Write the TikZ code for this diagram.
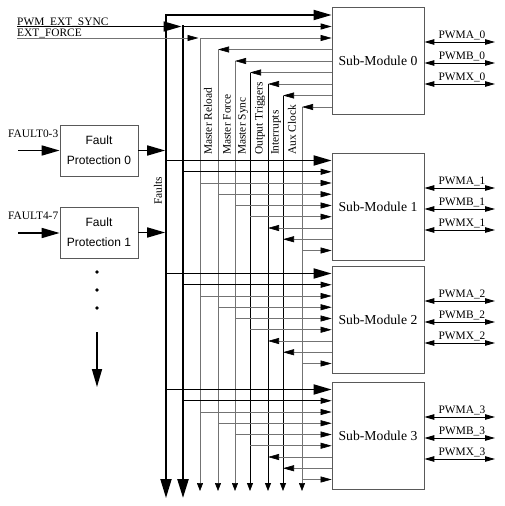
\documentclass[tikz,border=0pt]{standalone}
\usepackage{fontspec}
\setmainfont{Liberation Serif}
\newfontfamily\fpsans{Liberation Sans}
\usetikzlibrary{arrows.meta, positioning, calc}

\tikzset{
  smbox/.style={draw=black!65, line width=0.7pt, minimum width=92pt,
    minimum height=107pt, inner sep=0pt, font=\fontsize{13.7}{16}\selectfont},
  fpbox/.style={draw=black!65, line width=0.7pt, minimum width=78pt,
    minimum height=51pt, align=center, inner sep=0pt,
    font=\fpsans\fontsize{12}{20}\selectfont},
  lbl/.style={inner sep=0pt, font=\fontsize{11.4}{13}\selectfont},
  vlbl/.style={lbl, rotate=90},
  sig/.style={draw=black!55, line width=0.6pt},
  sigdark/.style={draw=black, line width=0.75pt},
  busA/.style={line width=1.8pt, line cap=rect},
  busB/.style={line width=2.4pt, line cap=rect},
  bigtip/.style={-{Triangle[length=18pt,width=10pt]}},
  sigtip/.style={-{Triangle[length=11pt,width=6pt,color=black]}},
  downtip/.style={-{Triangle[length=8pt,width=6pt,color=black]}},
  bustip/.style={-{Triangle[length=19pt,width=11pt]}},
  pwmarr/.style={line width=0.9pt,
    {Triangle[length=10pt,width=5.5pt]}-{Triangle[length=10pt,width=5.5pt]}},
}

\begin{document}
\begin{tikzpicture}[x=1pt, y=-1pt]
\useasboundingbox (0,0) rectangle (504,506);

% sub-modules and fault blocks
\foreach \k/\cy in {0/60.5, 1/206.5, 2/319.5, 3/435.5}
  \node[smbox] (sm\k) at (378,\cy) {Sub-Module \k};
\node[fpbox] (fp0) at (99,150.5) {Fault\\Protection 0};
\node[fpbox] (fp1) at (99,232.5) {Fault\\Protection 1};

% bus columns, each starting at its row of sub-module 0
\foreach \i/\x in {0/166,1/183,2/200,3/218,4/235,5/250,6/268,7/283,8/302}{
  \coordinate (c\i) at (\x,15+11.5*\i);
  \coordinate (e\i) at (\x,491);
}
\coordinate (e0) at (166,498);
\coordinate (e1) at (183,498);
\draw[busA, bustip] (c0) -- (e0);
\draw[busB, bustip] (c1) -- (e1);
\foreach \i in {2,3,4,8} \draw[sig, downtip] (c\i) -- (e\i);
\foreach \i in {5,6,7} \draw[sigdark, downtip] (c\i) -- (e\i);

% rows of sub-module 0
\draw[busA, bigtip] (c0) -- (c0 -| sm0.west);
\draw[line width=1pt, sigtip] (c1) -- (c1 -| sm0.west);
\draw[sig, sigtip] (c2) -- (c2 -| sm0.west);
\foreach \i in {3,...,8} \draw[sig, sigtip] (c\i -| sm0.west) -- (c\i);

% rows of the other sub-modules
\foreach \k/\top in {1/153,2/266,3/382}{
  \foreach \i in {0,...,8}
    \coordinate (r\k\i) at (0,\top+7.5+11.25*\i);
  \draw[busA, bigtip] (c0 |- r\k0) -- (sm\k.west |- r\k0);
  \draw[line width=0.8pt, sigtip] (c1 |- r\k1) -- (sm\k.west |- r\k1);
  \foreach \i in {2,3,4,5,8}
    \draw[sig, sigtip] (c\i |- r\k\i) -- (sm\k.west |- r\k\i);
  \foreach \i in {6,7}
    \draw[sig, sigtip] (sm\k.west |- r\k\i) -- (c\i |- r\k\i);
}

% PWM outputs
\foreach \k/\top in {0/7,1/153,2/266,3/382}
  \foreach \s [count=\j from 0] in {A,B,X}{
    \coordinate (o\k\j) at (495,\top+35+21*\j);
    \draw[pwmarr] (sm\k.east |- o\k\j) -- (o\k\j);
    \node[lbl, anchor=base] (p\k\j) at (462,\top+31+21*\j) {PWM\s\_\k};
  }

% external inputs
\coordinate (syncin) at (17,26.5);
\coordinate (forcein) at (17,38);
\draw[line width=1.7pt, bigtip, shorten >=1.5pt] (syncin) -- (c1);
\draw[sig, sigtip, shorten >=1.5pt] (forcein) -- (c2);
\node[lbl, anchor=base west] (syncl) at (17,25) {PWM\_EXT\_SYNC};
\node[lbl, anchor=base west] (forcel) at (17,36) {EXT\_FORCE};

% column labels
\foreach \x/\t [count=\n] in {208/Master Reload, 227/Master Force,
    243/Master Sync, 260/Output Triggers, 276/Interrupts, 292/Aux Clock}
  \node[vlbl, anchor=west] (v\n) at (\x,155) {\t};
\node[vlbl] (faults) at (158,191) {Faults};

% fault inputs
\coordinate (f0in) at (18,150.5);
\coordinate (f1in) at (18,233);
\draw[line width=1.7pt, bigtip] (f0in) -- (f0in -| fp0.west);
\draw[line width=1.7pt, bigtip] (f1in) -- (f1in -| fp1.west);
\draw[line width=1.7pt, bigtip, shorten >=0.8pt] (fp0.east) -- (fp0.east -| c0);
\draw[line width=1.7pt, bigtip, shorten >=0.8pt] (fp1.east) -- (fp1.east -| c0);
\node[lbl, anchor=west] (fl0) at (8,134) {FAULT0-3};
\node[lbl, anchor=west] (fl1) at (8,216) {FAULT4-7};

% more blocks below
\foreach \d/\y in {1/272,2/290,3/308}
  \node[circle, fill, inner sep=0pt, minimum size=3.6pt] (dot\d) at (97,\y) {};
\coordinate (more0) at (97,332);
\coordinate (more1) at (97,387);
\draw[line width=1.6pt, bigtip] (more0) -- (more1);
\end{tikzpicture}
\end{document}
